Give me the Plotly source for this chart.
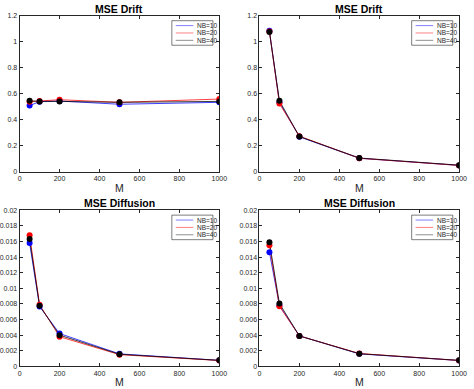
import plotly.graph_objects as go

M = [50, 100, 200, 500, 1000]
series_names = ["NB=10", "NB=20", "NB=40"]
series_colors = ["#0000ff", "#ff0000", "#000000"]
legend_colors = ["#8080ff", "#ff8080", "#909090"]

# Panel 1: MSE Drift (top-left)
drift_a_nb10 = [0.51, 0.54, 0.545, 0.52, 0.535]
drift_a_nb20 = [0.54, 0.545, 0.555, 0.535, 0.56]
drift_a_nb40 = [0.547, 0.542, 0.542, 0.535, 0.542]
# Panel 2: MSE Drift (top-right)
drift_b_nb10 = [1.085, 0.535, 0.27, 0.105, 0.05]
drift_b_nb20 = [1.08, 0.525, 0.275, 0.105, 0.05]
drift_b_nb40 = [1.075, 0.547, 0.272, 0.107, 0.052]
# Panel 3: MSE Diffusion (bottom-left)
diff_a_nb10 = [0.0158, 0.00767, 0.0042, 0.0016, 0.00077]
diff_a_nb20 = [0.0168, 0.0079, 0.0038, 0.0015, 0.00075]
diff_a_nb40 = [0.0163, 0.00776, 0.0040, 0.00155, 0.00077]
# Panel 4: MSE Diffusion (bottom-right)
diff_b_nb10 = [0.01463, 0.0078, 0.0039, 0.0016, 0.00075]
diff_b_nb20 = [0.0155, 0.0077, 0.0039, 0.00165, 0.00075]
diff_b_nb40 = [0.0159, 0.00805, 0.0039, 0.00162, 0.00077]

panel_titles = ["MSE Drift", "MSE Drift", "MSE Diffusion", "MSE Diffusion"]
x_label = "M"
x_ticks = [0, 200, 400, 600, 800, 1000]
drift_ticks = [0, 0.2, 0.4, 0.6, 0.8, 1.0, 1.2]
drift_ticktext = ["0", "0.2", "0.4", "0.6", "0.8", "1", "1.2"]
diff_ticks = [0, 0.002, 0.004, 0.006, 0.008, 0.01, 0.012, 0.014, 0.016, 0.018, 0.02]
diff_ticktext = ["0", "0.002", "0.004", "0.006", "0.008", "0.01", "0.012", "0.014", "0.016", "0.018", "0.02"]

panels = [
    [drift_a_nb10, drift_a_nb20, drift_a_nb40],
    [drift_b_nb10, drift_b_nb20, drift_b_nb40],
    [diff_a_nb10, diff_a_nb20, diff_a_nb40],
    [diff_b_nb10, diff_b_nb20, diff_b_nb40],
]

W, H = 474, 389
# pixel boxes (left, right, top, bottom)
boxes = [(18, 222, 12, 171), (263, 467, 12, 171), (18, 222, 210, 369), (263, 467, 210, 369)]

FONT = "Liberation Sans, Arial, sans-serif"
AX = "#262626"


def px(xp):
    return xp / W


def py(yp):
    return 1 - yp / H


fig = go.Figure()
layout = dict(
    width=W, height=H, margin=dict(l=0, r=0, t=0, b=0), autosize=False,
    paper_bgcolor="white", plot_bgcolor="white", showlegend=False,
    font=dict(family=FONT, size=7, color=AX),
)
annotations = []
shapes = []
for i, (series, box) in enumerate(zip(panels, boxes)):
    idx = "" if i == 0 else str(i + 1)
    xa, ya = "x" + idx, "y" + idx
    for name, color, vals in zip(series_names, series_colors, series):
        fig.add_trace(go.Scatter(x=M, y=vals, mode="lines", name=name,
                                 line=dict(color=color, width=1), opacity=0.75,
                                 xaxis=xa, yaxis=ya))
    for name, color, vals in zip(series_names, series_colors, series):
        fig.add_trace(go.Scatter(x=M, y=vals, mode="markers", name=name,
                                 marker=dict(color=color, size=6),
                                 xaxis=xa, yaxis=ya))
    l, r, t, b = box
    is_drift = i < 2
    common = dict(showline=True, linecolor=AX, linewidth=1, mirror="allticks",
                  ticks="inside", ticklen=3, tickcolor=AX, showgrid=False,
                  zeroline=False, tickfont=dict(size=7, color=AX, family=FONT))
    layout["xaxis" + idx] = dict(domain=[px(l), px(r)], range=[0, 1000], tickvals=x_ticks,
                                 anchor=ya, **common)
    layout["yaxis" + idx] = dict(domain=[py(b), py(t)],
                                 range=[0, 1.2] if is_drift else [0, 0.02],
                                 tickvals=drift_ticks if is_drift else diff_ticks,
                                 ticktext=drift_ticktext if is_drift else diff_ticktext,
                                 anchor=xa, **common)
    # legend box (drawn manually, MATLAB style)
    lb_r = r - 6.5
    lb_l = lb_r - 42
    lb_t = t + 5
    lb_b = lb_t + 25
    shapes.append(dict(type="rect", xref="paper", yref="paper",
                       x0=px(lb_l), x1=px(lb_r), y0=py(lb_b), y1=py(lb_t),
                       line=dict(color=AX, width=0.6), fillcolor="white", layer="above"))
    for k, (name, lc) in enumerate(zip(series_names, legend_colors)):
        yy = lb_t + 5 + 7.5 * k
        shapes.append(dict(type="line", xref="paper", yref="paper",
                           x0=px(lb_l + 4), x1=px(lb_l + 22), y0=py(yy), y1=py(yy),
                           line=dict(color=lc, width=1), layer="above"))
        annotations.append(dict(text=name, xref="paper", yref="paper",
                                x=px(lb_l + 24), y=py(yy), showarrow=False,
                                xanchor="left", yanchor="middle",
                                font=dict(size=6.5, color=AX, family=FONT)))
    annotations.append(dict(text="<b>" + panel_titles[i] + "</b>", xref="paper", yref="paper",
                            x=px((l + r) / 2), y=py(t - 7), showarrow=False,
                            font=dict(size=10.5, color="black", family=FONT),
                            xanchor="center", yanchor="middle"))
    annotations.append(dict(text=x_label, xref="paper", yref="paper",
                            x=px((l + r) / 2), y=py(b + 16), showarrow=False,
                            font=dict(size=10.5, color=AX, family=FONT),
                            xanchor="center", yanchor="middle"))
layout["annotations"] = annotations
layout["shapes"] = shapes
fig.update_layout(**layout)

body = fig.to_html(full_html=False, include_plotlyjs=True,
                   config={"displayModeBar": False, "responsive": False})
html = ("<!DOCTYPE html><html><head><meta charset='utf-8'>"
        "<style>html,body{margin:0;padding:0;overflow:hidden;background:white}</style>"
        "</head><body>" + body + "</body></html>")
with open("out.html", "w", encoding="utf-8") as f:
    f.write(html)
